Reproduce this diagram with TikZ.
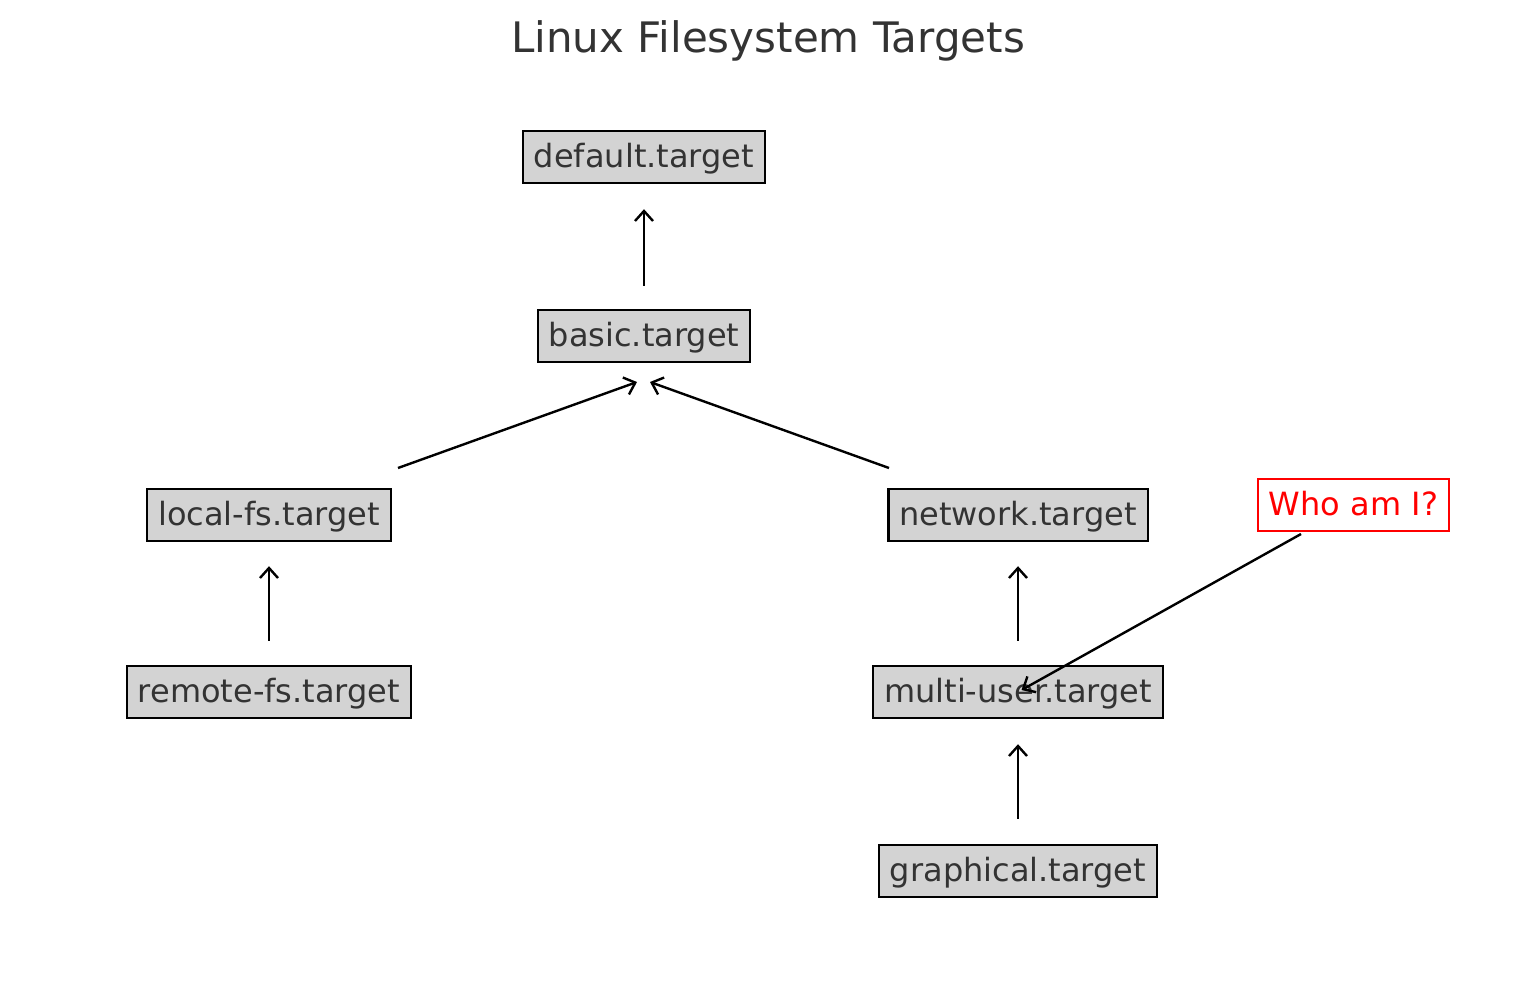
\documentclass[tikz,border=0pt]{standalone}
\usepackage{fontspec}
\setmainfont{DejaVu Sans}
\usetikzlibrary{arrows.meta}
\definecolor{textgray}{HTML}{333333}
\definecolor{boxgray}{HTML}{D3D3D3}

\begin{document}
\begin{tikzpicture}[x=0.5pt,y=-0.5pt,
    target/.style={draw=black,line width=1.2pt,fill=boxgray,text=textgray,
      font=\fontsize{16}{19}\selectfont,minimum height=26pt,inner xsep=5.5pt,inner ysep=0pt,
      text height=12pt,text depth=1.5pt},
    guess/.style={target,draw=red,fill=white,text=red},
    dep/.style={line width=1.2pt,-{Straight Barb[length=5pt,width=9pt]}}]
    \useasboundingbox (0,0) rectangle (1536,980);
    % Title
    \node[text=textgray,font=\fontsize{21}{25}\selectfont] (title) at (768,41) {Linux Filesystem Targets};
    % Targets
    \node[target] (default) at (644,157) {default.target};
    \node[target] (basic) at (644,336) {basic.target};
    \node[target] (localfs) at (269,515) {local-fs.target};
    \node[target] (network) at (1018,515) {network.target};
    \node[target] (remotefs) at (269,692) {remote-fs.target};
    \node[target] (multiuser) at (1018,692) {multi-user.target};
    \node[target] (graphical) at (1018,871) {graphical.target};
    % The question box
    \node[guess] (whoami) at (1353.5,505) {Who am I?};
    % Arrow ends for the slanted arrows
    \coordinate (localfs-out) at (398,468);
    \coordinate (network-out) at (889,468);
    \coordinate (basic-inl) at (637,382);
    \coordinate (basic-inr) at (650,382);
    \coordinate (whoami-out) at (1301,534);
    % Dependencies
    \draw[dep,shorten <=11.5pt,shorten >=12.5pt] (basic) -- (default);
    \draw[dep] (localfs-out) -- (basic-inl);
    \draw[dep] (network-out) -- (basic-inr);
    \draw[dep,shorten <=12pt,shorten >=12pt] (remotefs) -- (localfs);
    \draw[dep,shorten <=12pt,shorten >=12pt] (multiuser) -- (network);
    \draw[dep,shorten <=12.5pt,shorten >=12.5pt] (graphical) -- (multiuser);
    \draw[dep,shorten >=2pt] (whoami-out) -- (multiuser.center);
\end{tikzpicture}
\end{document}
